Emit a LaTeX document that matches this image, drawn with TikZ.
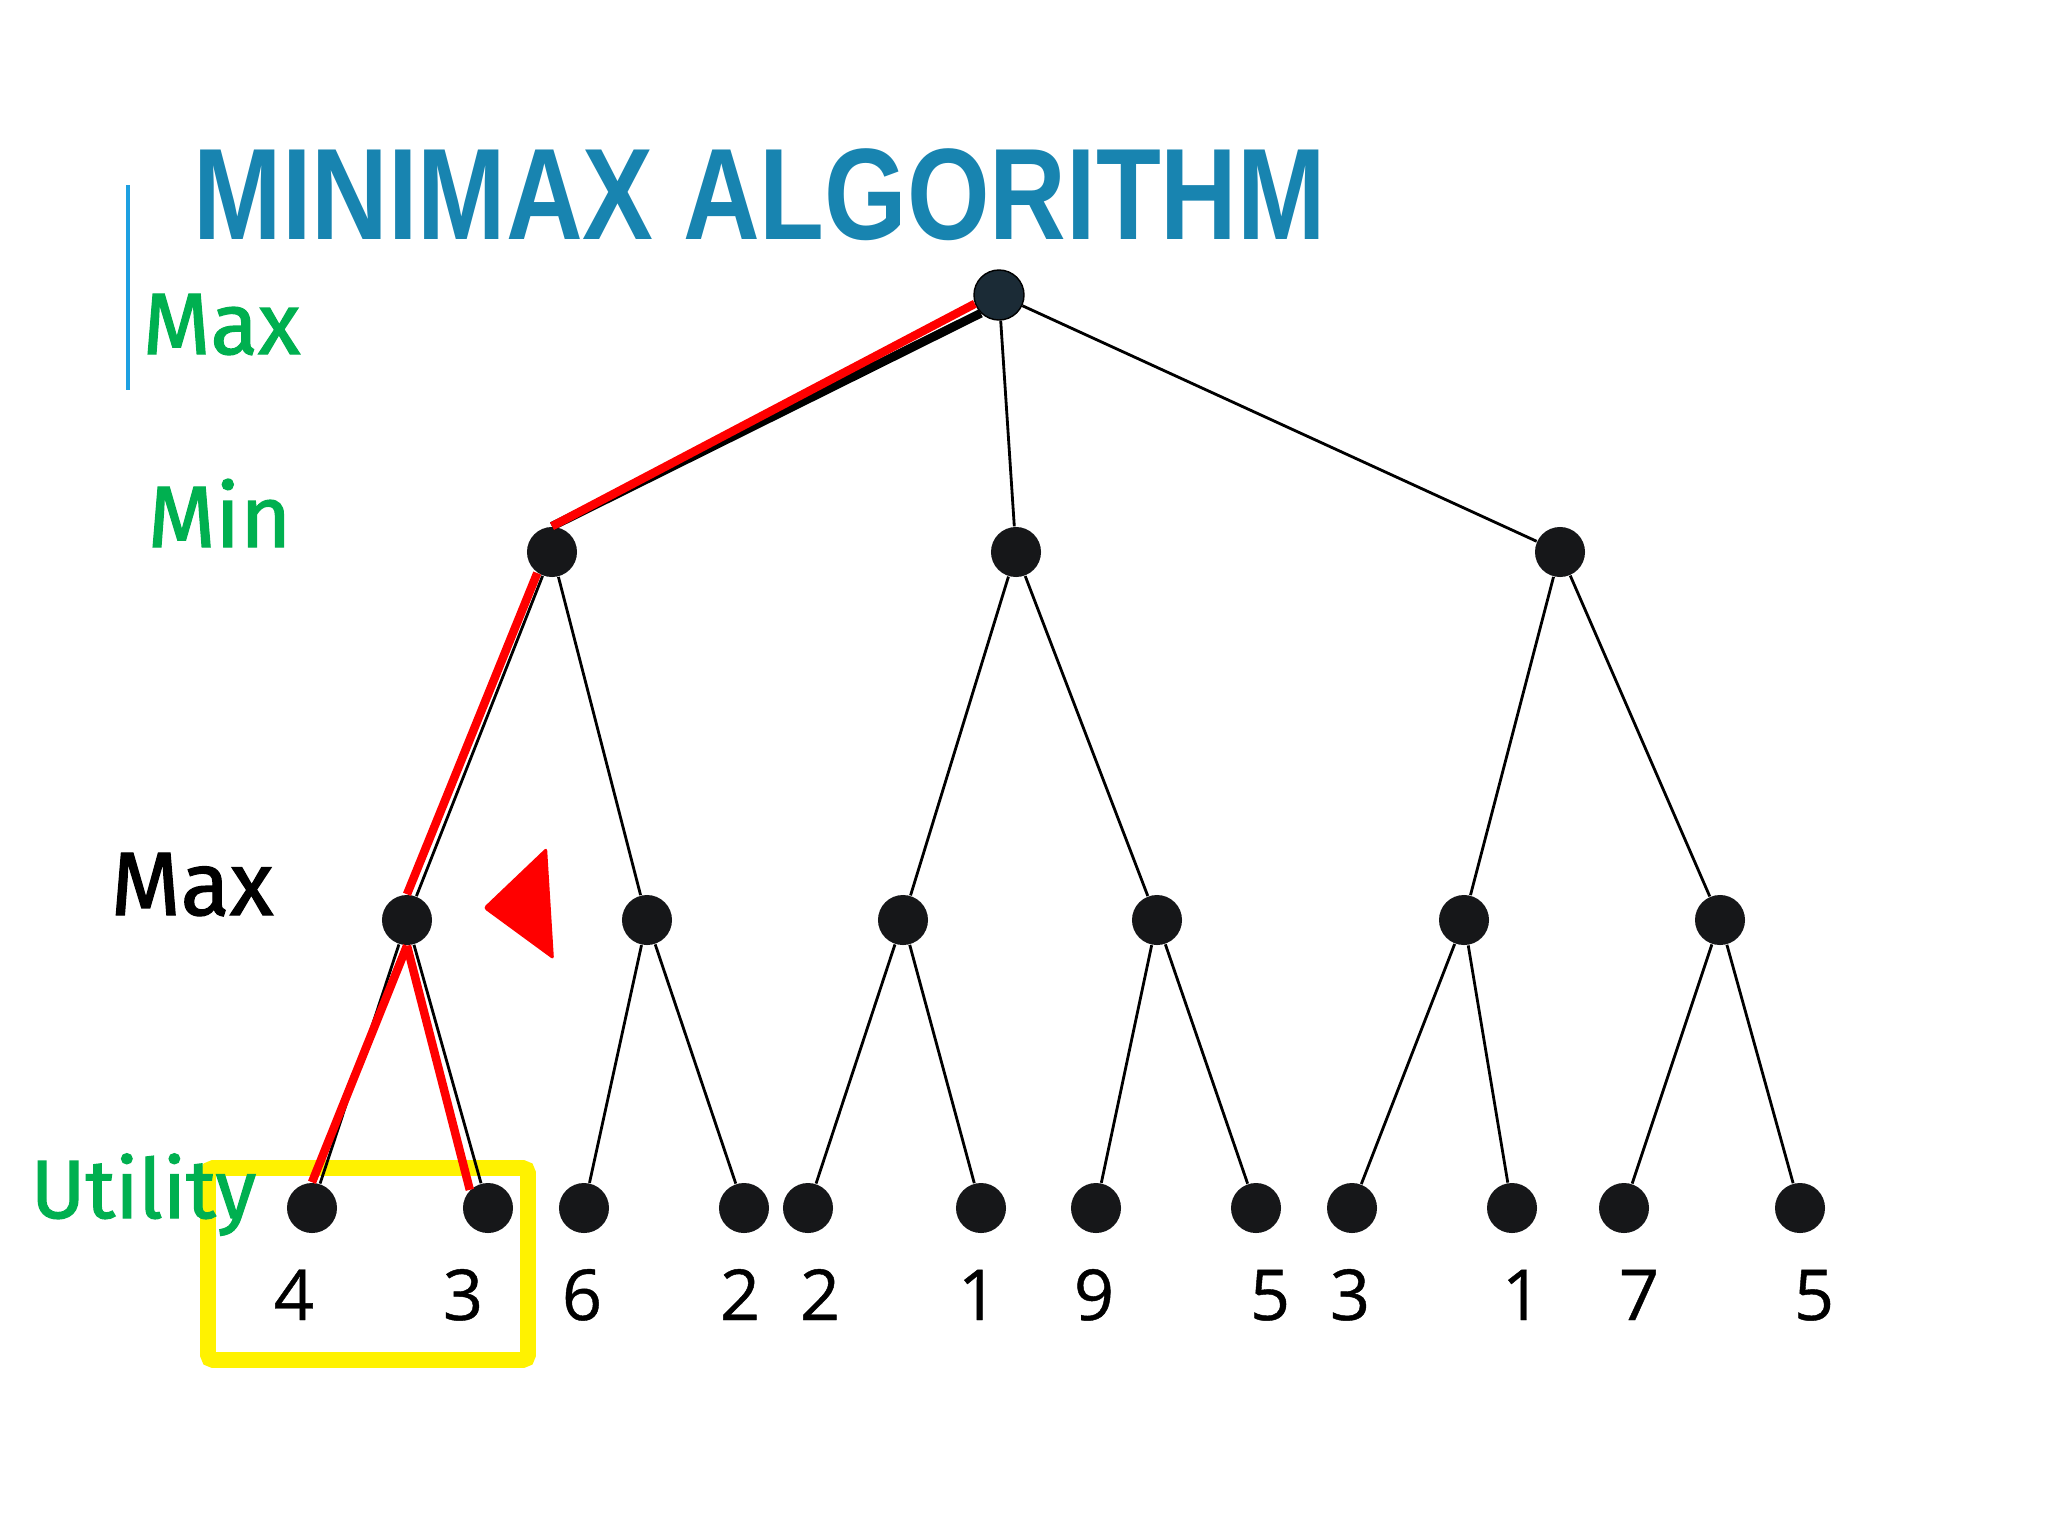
\documentclass[tikz,border=0pt]{standalone}
\usepackage{fontspec}
\setmainfont{Fira Sans}
\newfontfamily\titlefont[FakeStretch=0.816,UprightFont={* Bold}]{Liberation Sans}
\newfontfamily\lvlfont[FakeBold=1.4]{Fira Sans}
\newfontfamily\digitfont[FakeBold=0.6]{Open Sans}
\definecolor{titleblue}{RGB}{24,132,176}
\definecolor{lvlgreen}{RGB}{0,176,80}
\definecolor{barblue}{RGB}{30,160,225}
\definecolor{dotblack}{RGB}{22,23,25}
\definecolor{rootfill}{RGB}{27,43,54}

\begin{document}
\begin{tikzpicture}[x=0.01cm,y=-0.01cm,
    dot/.style={circle,fill=dotblack,minimum size=0.5cm,inner sep=0pt},
    edge/.style={draw=black,line width=0.8pt},
    best/.style={draw=red,line width=2.4pt},
    level/.style={anchor=base west,inner sep=0pt,font=\lvlfont\fontsize{24.8}{28}\selectfont},
    val/.style={anchor=base,inner sep=0pt,font=\digitfont\fontsize{20}{24}\selectfont}]

    \useasboundingbox (0,0) rectangle (2048,1536);
    \fill[white] (0,0) rectangle (2048,1536);

    % Title
    \node[anchor=base west,inner sep=0pt,text=titleblue,font=\titlefont\fontsize{37}{40}\selectfont] (title) at (193,239) {MINIMAX ALGORITHM};
    \draw[barblue,line width=1.1pt] (128,185) -- (128,390);

    % Highlight box
    \draw[yellow,line width=4.5pt,rounded corners=1.5pt] (208,1168) rectangle (528,1360);

    % Level names
    \node[level,text=lvlgreen] (lmax) at (142,354) {Max};
    \node[level,text=lvlgreen] (lmin) at (147,547) {Min};
    \node[level,text=black,font=\lvlfont\fontsize{25.6}{28}\selectfont] (lmax2) at (110,915) {Max};
    \node[level,text=lvlgreen,font=\lvlfont\fontsize{23.5}{28}\selectfont] (lutil) at (30,1218) {Utility};

    % Tree nodes
    \node[dot,draw=black,fill=rootfill,line width=0.4pt] (root) at (999,295) {};
    \node[dot] (m1) at (552,552) {};
    \node[dot] (m2) at (1016,552) {};
    \node[dot] (m3) at (1560,552) {};
    \foreach \x [count=\i] in {407,647,903,1157,1464,1720}
        \node[dot] (x\i) at (\x,920) {};
    \foreach \x/\lx/\v [count=\i] in {312/294/4,488/463/3,584/582/6,744/740/2,808/820/2,981/978/1,
                                      1096/1094/9,1256/1270/5,1352/1350/3,1512/1522/1,1624/1639/7,1800/1814/5}{
        \node[dot] (u\i) at (\x,1208) {};
        \node[val] (v\i) at (\lx,1320) {\v};
    }

    % Edges
    \foreach \a/\b in {root/m2,root/m3,m1/x1,m1/x2,m2/x3,m2/x4,m3/x5,m3/x6,
                       x1/u1,x1/u2,x2/u3,x2/u4,x3/u5,x3/u6,x4/u7,x4/u8,x5/u9,x5/u10,x6/u11,x6/u12}
        \draw[edge] (\a) -- (\b);
    \draw[black,line width=2.5pt] (root.south west) -- (m1.north);

    % Chosen path
    \draw[best] (root.200) -- (m1.north);
    \draw[best] (m1.235) -- (x1.north);
    \draw[best] (x1.south) -- (u1.north);
    \draw[best] (x1.south) -- (u2.135);

    % Pointer
    \fill[red,rounded corners=1pt] (483,908) -- (547,847) -- (554,960) -- cycle;
\end{tikzpicture}
\end{document}
